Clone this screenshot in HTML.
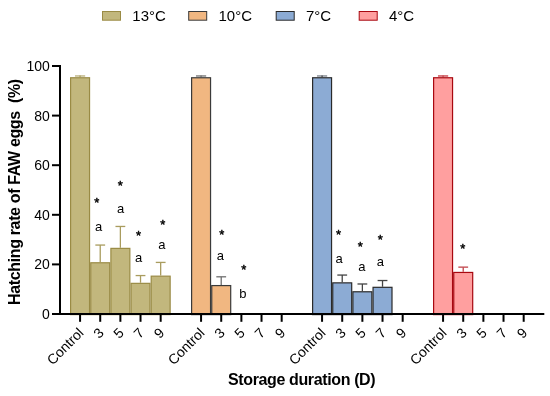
<!DOCTYPE html><html><head><meta charset="utf-8"><style>
html,body{margin:0;padding:0;background:#fff;width:550px;height:396px;overflow:hidden}
svg{display:block}
text{font-family:"Liberation Sans",Arial,sans-serif;fill:#000}
</style></head><body>
<svg width="550" height="396" viewBox="0 0 550 396">
<rect width="550" height="396" fill="#fff"/>
<rect x="102.5" y="11.5" width="18" height="8.7" fill="#C2B77D" stroke="#9A8B45" stroke-width="1"/>
<text x="132.3" y="21" font-size="15.3" textLength="33.5" lengthAdjust="spacingAndGlyphs">13°C</text>
<rect x="188.7" y="11.5" width="18" height="8.7" fill="#F1B781" stroke="#3A3A3A" stroke-width="1"/>
<text x="218.5" y="21" font-size="15.3" textLength="33.5" lengthAdjust="spacingAndGlyphs">10°C</text>
<rect x="276.2" y="11.5" width="18" height="8.7" fill="#8CABD4" stroke="#2A2A2A" stroke-width="1"/>
<text x="306.0" y="21" font-size="15.3" textLength="25.2" lengthAdjust="spacingAndGlyphs">7°C</text>
<rect x="359.2" y="11.5" width="18" height="8.7" fill="#FF9F9F" stroke="#A80810" stroke-width="1"/>
<text x="389.0" y="21" font-size="15.3" textLength="25.2" lengthAdjust="spacingAndGlyphs">4°C</text>
<rect x="74.98" y="75" width="10.2" height="1.9" fill="#CFC8A4"/>
<line x1="80.08" y1="75.6" x2="80.08" y2="77.16" stroke="#A99C5E" stroke-width="1.2"/>
<rect x="70.60" y="77.76" width="18.95" height="236.84" fill="#C2B77D" stroke="#9A8B45" stroke-width="1.2"/>
<line x1="100.23" y1="245.06" x2="100.23" y2="262.17" stroke="#A99C5E" stroke-width="1.3"/>
<line x1="95.33" y1="245.06" x2="105.13" y2="245.06" stroke="#A99C5E" stroke-width="1.3"/>
<rect x="90.75" y="262.77" width="18.95" height="51.83" fill="#C2B77D" stroke="#9A8B45" stroke-width="1.2"/>
<line x1="120.38" y1="226.46" x2="120.38" y2="247.78" stroke="#A99C5E" stroke-width="1.3"/>
<line x1="115.47" y1="226.46" x2="125.28" y2="226.46" stroke="#A99C5E" stroke-width="1.3"/>
<rect x="110.90" y="248.38" width="18.95" height="66.22" fill="#C2B77D" stroke="#9A8B45" stroke-width="1.2"/>
<line x1="140.52" y1="275.56" x2="140.52" y2="282.75" stroke="#A99C5E" stroke-width="1.3"/>
<line x1="135.62" y1="275.56" x2="145.42" y2="275.56" stroke="#A99C5E" stroke-width="1.3"/>
<rect x="131.05" y="283.35" width="18.95" height="31.25" fill="#C2B77D" stroke="#9A8B45" stroke-width="1.2"/>
<line x1="160.67" y1="262.42" x2="160.67" y2="275.56" stroke="#A99C5E" stroke-width="1.3"/>
<line x1="155.77" y1="262.42" x2="165.57" y2="262.42" stroke="#A99C5E" stroke-width="1.3"/>
<rect x="151.20" y="276.16" width="18.95" height="38.44" fill="#C2B77D" stroke="#9A8B45" stroke-width="1.2"/>
<rect x="195.97" y="75" width="10.2" height="1.9" fill="#9E9E9E"/>
<line x1="201.07" y1="75.6" x2="201.07" y2="77.16" stroke="#6E6E6E" stroke-width="1.2"/>
<rect x="191.60" y="77.76" width="18.95" height="236.84" fill="#F1B781" stroke="#3A3A3A" stroke-width="1.2"/>
<line x1="221.22" y1="276.80" x2="221.22" y2="284.98" stroke="#6E6E6E" stroke-width="1.3"/>
<line x1="216.32" y1="276.80" x2="226.12" y2="276.80" stroke="#6E6E6E" stroke-width="1.3"/>
<rect x="211.75" y="285.58" width="18.95" height="29.02" fill="#F1B781" stroke="#3A3A3A" stroke-width="1.2"/>
<rect x="316.97" y="75" width="10.2" height="1.9" fill="#A4A8AE"/>
<line x1="322.07" y1="75.6" x2="322.07" y2="77.16" stroke="#444444" stroke-width="1.2"/>
<rect x="312.60" y="77.76" width="18.95" height="236.84" fill="#8CABD4" stroke="#2A2A2A" stroke-width="1.2"/>
<line x1="342.22" y1="275.06" x2="342.22" y2="282.26" stroke="#444444" stroke-width="1.3"/>
<line x1="337.32" y1="275.06" x2="347.12" y2="275.06" stroke="#444444" stroke-width="1.3"/>
<rect x="332.75" y="282.86" width="18.95" height="31.74" fill="#8CABD4" stroke="#2A2A2A" stroke-width="1.2"/>
<line x1="362.38" y1="283.99" x2="362.38" y2="291.18" stroke="#444444" stroke-width="1.3"/>
<line x1="357.48" y1="283.99" x2="367.27" y2="283.99" stroke="#444444" stroke-width="1.3"/>
<rect x="352.90" y="291.78" width="18.95" height="22.82" fill="#8CABD4" stroke="#2A2A2A" stroke-width="1.2"/>
<line x1="382.52" y1="280.52" x2="382.52" y2="286.72" stroke="#444444" stroke-width="1.3"/>
<line x1="377.62" y1="280.52" x2="387.42" y2="280.52" stroke="#444444" stroke-width="1.3"/>
<rect x="373.05" y="287.32" width="18.95" height="27.28" fill="#8CABD4" stroke="#2A2A2A" stroke-width="1.2"/>
<rect x="437.97" y="75" width="10.2" height="1.9" fill="#D8767C"/>
<line x1="443.07" y1="75.6" x2="443.07" y2="77.16" stroke="#C0444A" stroke-width="1.2"/>
<rect x="433.60" y="77.76" width="18.95" height="236.84" fill="#FF9F9F" stroke="#A80810" stroke-width="1.2"/>
<line x1="463.22" y1="267.13" x2="463.22" y2="271.84" stroke="#C0444A" stroke-width="1.3"/>
<line x1="458.32" y1="267.13" x2="468.12" y2="267.13" stroke="#C0444A" stroke-width="1.3"/>
<rect x="453.75" y="272.44" width="18.95" height="42.16" fill="#FF9F9F" stroke="#A80810" stroke-width="1.2"/>
<g stroke="#000" stroke-width="2" fill="none">
<line x1="60" y1="65" x2="60" y2="315.0"/>
<line x1="52" y1="314.0" x2="544.3" y2="314.0"/>
<line x1="52" y1="66.00" x2="60" y2="66.00"/>
<line x1="52" y1="115.60" x2="60" y2="115.60"/>
<line x1="52" y1="165.20" x2="60" y2="165.20"/>
<line x1="52" y1="214.80" x2="60" y2="214.80"/>
<line x1="52" y1="264.40" x2="60" y2="264.40"/>
<line x1="80.08" y1="314.0" x2="80.08" y2="321.8"/>
<line x1="100.23" y1="314.0" x2="100.23" y2="321.8"/>
<line x1="120.38" y1="314.0" x2="120.38" y2="321.8"/>
<line x1="140.52" y1="314.0" x2="140.52" y2="321.8"/>
<line x1="160.67" y1="314.0" x2="160.67" y2="321.8"/>
<line x1="201.07" y1="314.0" x2="201.07" y2="321.8"/>
<line x1="221.22" y1="314.0" x2="221.22" y2="321.8"/>
<line x1="241.38" y1="314.0" x2="241.38" y2="321.8"/>
<line x1="261.52" y1="314.0" x2="261.52" y2="321.8"/>
<line x1="281.68" y1="314.0" x2="281.68" y2="321.8"/>
<line x1="322.07" y1="314.0" x2="322.07" y2="321.8"/>
<line x1="342.22" y1="314.0" x2="342.22" y2="321.8"/>
<line x1="362.38" y1="314.0" x2="362.38" y2="321.8"/>
<line x1="382.52" y1="314.0" x2="382.52" y2="321.8"/>
<line x1="402.68" y1="314.0" x2="402.68" y2="321.8"/>
<line x1="443.07" y1="314.0" x2="443.07" y2="321.8"/>
<line x1="463.22" y1="314.0" x2="463.22" y2="321.8"/>
<line x1="483.38" y1="314.0" x2="483.38" y2="321.8"/>
<line x1="503.52" y1="314.0" x2="503.52" y2="321.8"/>
<line x1="523.68" y1="314.0" x2="523.68" y2="321.8"/>
</g>
<text x="49.8" y="71.00" font-size="14" text-anchor="end">100</text>
<text x="49.8" y="120.60" font-size="14" text-anchor="end">80</text>
<text x="49.8" y="170.20" font-size="14" text-anchor="end">60</text>
<text x="49.8" y="219.80" font-size="14" text-anchor="end">40</text>
<text x="49.8" y="269.40" font-size="14" text-anchor="end">20</text>
<text x="49.8" y="319.00" font-size="14" text-anchor="end">0</text>
<text x="84.58" y="333.80" font-size="14" text-anchor="end" transform="rotate(-45 84.58 333.80)">Control</text>
<text x="104.73" y="333.80" font-size="14" text-anchor="end" transform="rotate(-45 104.73 333.80)">3</text>
<text x="124.88" y="333.80" font-size="14" text-anchor="end" transform="rotate(-45 124.88 333.80)">5</text>
<text x="145.02" y="333.80" font-size="14" text-anchor="end" transform="rotate(-45 145.02 333.80)">7</text>
<text x="165.17" y="333.80" font-size="14" text-anchor="end" transform="rotate(-45 165.17 333.80)">9</text>
<text x="205.57" y="333.80" font-size="14" text-anchor="end" transform="rotate(-45 205.57 333.80)">Control</text>
<text x="225.72" y="333.80" font-size="14" text-anchor="end" transform="rotate(-45 225.72 333.80)">3</text>
<text x="245.88" y="333.80" font-size="14" text-anchor="end" transform="rotate(-45 245.88 333.80)">5</text>
<text x="266.02" y="333.80" font-size="14" text-anchor="end" transform="rotate(-45 266.02 333.80)">7</text>
<text x="286.18" y="333.80" font-size="14" text-anchor="end" transform="rotate(-45 286.18 333.80)">9</text>
<text x="326.57" y="333.80" font-size="14" text-anchor="end" transform="rotate(-45 326.57 333.80)">Control</text>
<text x="346.72" y="333.80" font-size="14" text-anchor="end" transform="rotate(-45 346.72 333.80)">3</text>
<text x="366.88" y="333.80" font-size="14" text-anchor="end" transform="rotate(-45 366.88 333.80)">5</text>
<text x="387.02" y="333.80" font-size="14" text-anchor="end" transform="rotate(-45 387.02 333.80)">7</text>
<text x="407.18" y="333.80" font-size="14" text-anchor="end" transform="rotate(-45 407.18 333.80)">9</text>
<text x="447.57" y="333.80" font-size="14" text-anchor="end" transform="rotate(-45 447.57 333.80)">Control</text>
<text x="467.72" y="333.80" font-size="14" text-anchor="end" transform="rotate(-45 467.72 333.80)">3</text>
<text x="487.88" y="333.80" font-size="14" text-anchor="end" transform="rotate(-45 487.88 333.80)">5</text>
<text x="508.02" y="333.80" font-size="14" text-anchor="end" transform="rotate(-45 508.02 333.80)">7</text>
<text x="528.18" y="333.80" font-size="14" text-anchor="end" transform="rotate(-45 528.18 333.80)">9</text>
<text x="96.80" y="207.20" font-size="13" text-anchor="middle" stroke="#000" stroke-width="0.45">*</text>
<text x="98.70" y="231.10" font-size="13" text-anchor="middle">a</text>
<text x="120.30" y="189.50" font-size="13" text-anchor="middle" stroke="#000" stroke-width="0.45">*</text>
<text x="120.70" y="213.00" font-size="13" text-anchor="middle">a</text>
<text x="138.60" y="239.70" font-size="13" text-anchor="middle" stroke="#000" stroke-width="0.45">*</text>
<text x="138.70" y="261.90" font-size="13" text-anchor="middle">a</text>
<text x="162.70" y="228.70" font-size="13" text-anchor="middle" stroke="#000" stroke-width="0.45">*</text>
<text x="161.80" y="249.20" font-size="13" text-anchor="middle">a</text>
<text x="221.80" y="238.70" font-size="13" text-anchor="middle" stroke="#000" stroke-width="0.45">*</text>
<text x="220.40" y="260.40" font-size="13" text-anchor="middle">a</text>
<text x="243.90" y="274.00" font-size="13" text-anchor="middle" stroke="#000" stroke-width="0.45">*</text>
<text x="242.80" y="297.60" font-size="13" text-anchor="middle">b</text>
<text x="338.60" y="238.60" font-size="13" text-anchor="middle" stroke="#000" stroke-width="0.45">*</text>
<text x="339.00" y="263.00" font-size="13" text-anchor="middle">a</text>
<text x="360.30" y="250.70" font-size="13" text-anchor="middle" stroke="#000" stroke-width="0.45">*</text>
<text x="361.80" y="271.10" font-size="13" text-anchor="middle">a</text>
<text x="380.30" y="244.00" font-size="13" text-anchor="middle" stroke="#000" stroke-width="0.45">*</text>
<text x="380.40" y="265.70" font-size="13" text-anchor="middle">a</text>
<text x="462.90" y="253.00" font-size="13" text-anchor="middle" stroke="#000" stroke-width="0.45">*</text>
<text x="301.8" y="384.8" font-size="16" font-weight="bold" text-anchor="middle" textLength="147.6" lengthAdjust="spacing">Storage duration (D)</text>
<text transform="translate(19.7 191.9) rotate(-90)" font-size="16" font-weight="bold" text-anchor="middle" textLength="226.1" lengthAdjust="spacing" xml:space="preserve">Hatching rate of FAW eggs  (%)</text>
</svg></body></html>
